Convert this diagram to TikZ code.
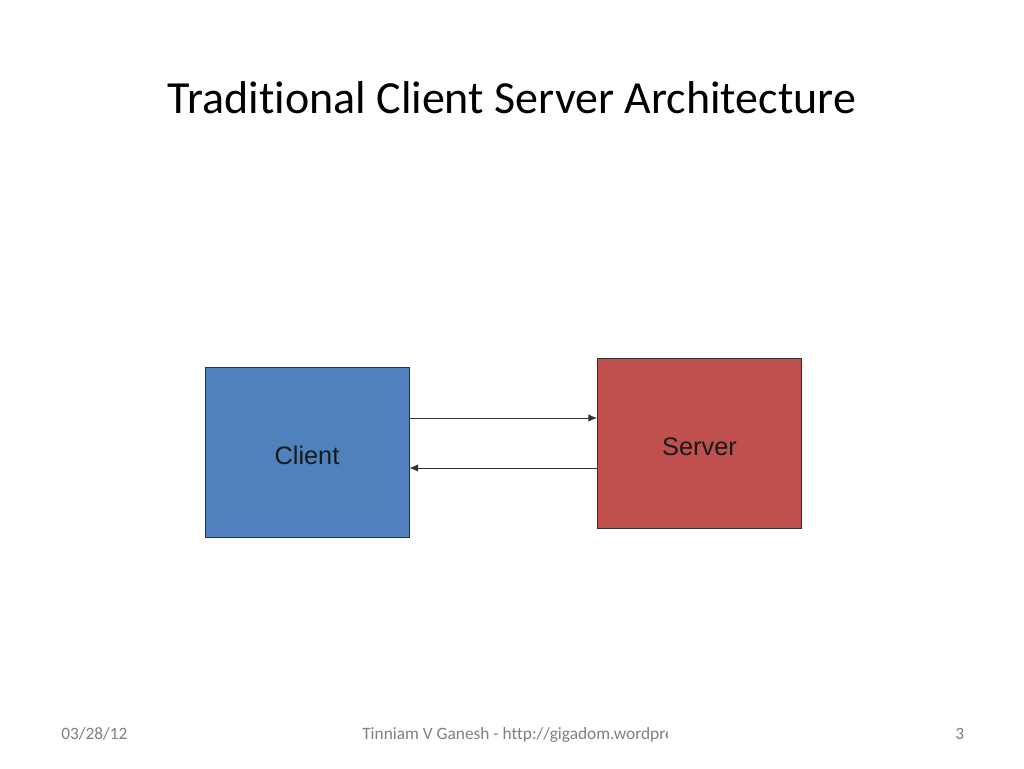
\documentclass[tikz,border=0pt]{standalone}
\usepackage{fontspec}
\usetikzlibrary{arrows.meta}
\setmainfont{Carlito}[Ligatures={NoCommon,NoDiscretionary}]
\newfontfamily\arialfont{Liberation Sans}
\definecolor{clientblue}{HTML}{4F81BD}
\definecolor{serverred}{HTML}{C0504D}
\definecolor{footgray}{HTML}{808080}
\begin{document}
\begin{tikzpicture}[x=0.75pt,y=-0.75pt,
  box/.style={draw=black!80,line width=0.6pt,minimum width=153pt,minimum height=127.5pt,
    font=\arialfont\fontsize{19}{19}\selectfont,text=black!90,text height=18pt,text depth=0pt},
  link/.style={-{Latex[length=6.5pt,width=5.5pt]},line width=0.7pt,draw=black!80},
  foot/.style={font=\fontsize{13}{13}\selectfont,text=footgray,anchor=base west,inner sep=0pt}]
\useasboundingbox[fill=white] (0,0) rectangle (1024,768);   %画布

\node[anchor=base] (title) at (512,113)
  {\fontsize{34.5}{34.5}\selectfont Traditional Client Server Architecture};   %标题

\node[box,fill=clientblue] (client) at (307,452) {Client};
\node[box,fill=serverred] (server) at (699.5,443) {Server};   %方框

\draw[link] ([yshift=25.5pt]client.east) -- ([yshift=25.5pt]client.east -| server.west);
\draw[link] ([yshift=-18.75pt]server.west) -- ([yshift=-18.75pt]server.west -| client.east);   %箭头

\node[foot] (date) at (61,739) {03/28/12};
\begin{scope}
\clip (340,720) rectangle (667,760);
\node[foot] (author) at (362,739) {Tinniam V Ganesh - http://gigadom.wordpre};
\end{scope}
\node[foot] (page) at (955,739) {3};   %页脚
\end{tikzpicture}
\end{document}
